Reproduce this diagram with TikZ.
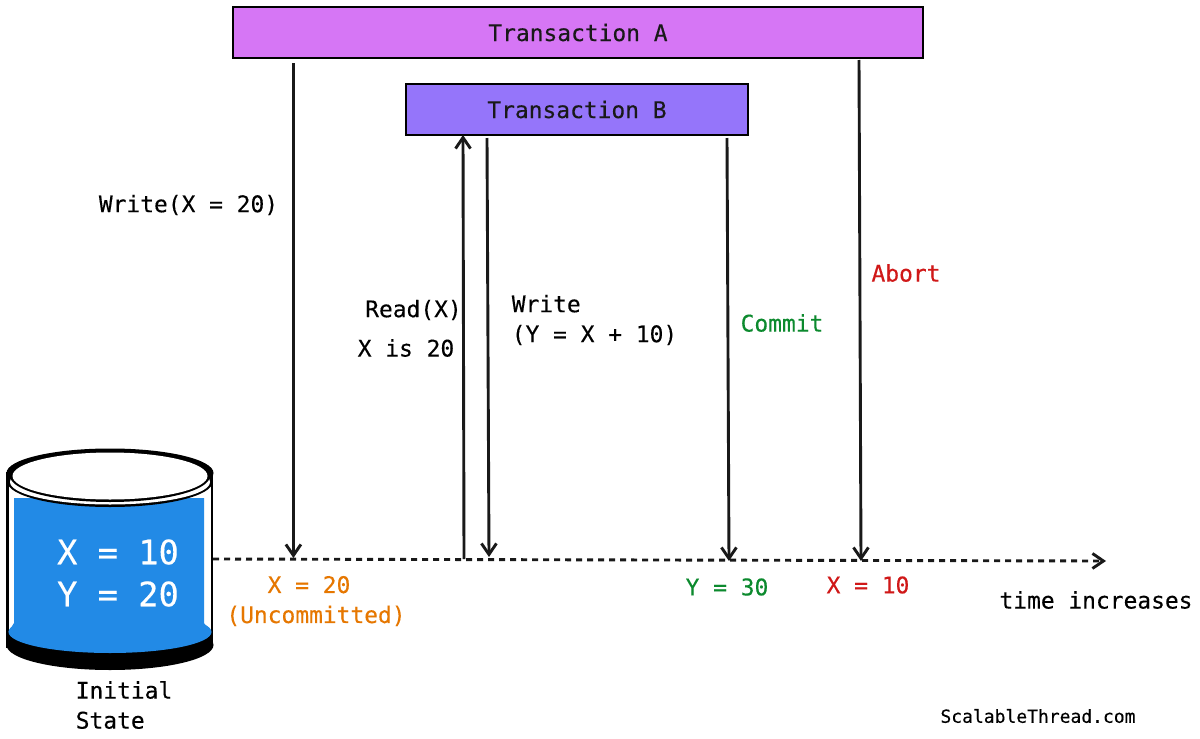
\documentclass[tikz,border=0pt]{standalone}
\usepackage{fontspec}
\setmainfont[FakeBold=0.25]{DejaVu Sans Mono}
\usetikzlibrary{arrows.meta}
\definecolor{txa}{HTML}{D676F5}
\definecolor{txb}{HTML}{9575FA}
\definecolor{dbblue}{HTML}{228AE6}
\definecolor{lblorange}{HTML}{E67700}
\definecolor{lblgreen}{HTML}{0C8A2E}
\definecolor{lblred}{HTML}{D01818}
\tikzset{
  txbox/.style={draw=black,line width=2.6pt,inner sep=0pt,font=\fontsize{22.9}{26}\selectfont,text=black!90},
  lbl/.style={inner sep=0pt,font=\fontsize{22.9}{30}\selectfont,text=black,align=left},
  flow/.style={draw=black!90,line width=2.9pt,-{Straight Barb[length=11pt,width=15pt,line width=2.9pt]}},
  timeline/.style={draw=black!90,line width=2.9pt,dash pattern=on 6pt off 5pt,-{Straight Barb[length=11pt,width=15pt,line width=2.9pt]}},
}
\begin{document}
\begin{tikzpicture}[x=1pt,y=-1pt]
\useasboundingbox (0,0) rectangle (1200,739);
\fill[white] (0,0) rectangle (1200,739);
% cylinder
\fill[black] (110,645) ellipse[x radius=103.5,y radius=25];
\fill[black] (6,472) rectangle (213,648);
\fill[white] (8.5,472) rectangle (210.5,632);
\fill[dbblue] (110,632) ellipse[x radius=101.5,y radius=21];
\fill[dbblue] (8.5,632) -- (14,623) -- (14,498) -- (204,498) -- (204,623) -- (210.5,632) -- cycle;
\fill[black] (110,473) ellipse[x radius=103.5,y radius=24.5];
\fill[black] (110,482) ellipse[x radius=102.5,y radius=25];
\fill[white] (110,482) ellipse[x radius=100,y radius=22.5];
\fill[black] (110,476) ellipse[x radius=100,y radius=26];
\fill[white] (110,476) ellipse[x radius=97.5,y radius=23.5];
% boxes
\node[txbox,fill=txa,minimum width=690pt,minimum height=51pt] (ta) at (578,32.5) {Transaction A};
\node[txbox,fill=txb,minimum width=342pt,minimum height=51pt] (tb) at (577,109.5) {Transaction B};
% coordinates
\coordinate (aw0) at (293.4,63);   \coordinate (aw1) at (293.4,558);
\coordinate (r0) at (464,559);   \coordinate (r1) at (463,135);
\coordinate (bw0) at (487,138);  \coordinate (bw1) at (489,557);
\coordinate (c0) at (727,138);   \coordinate (c1) at (729,561);
\coordinate (ab0) at (859,60);   \coordinate (ab1) at (861,561);
\coordinate (t0) at (213,559);   \coordinate (t1) at (1106,561);
\draw[flow] (aw0) -- (aw1);
\draw[flow] (r0) -- (r1);
\draw[flow] (bw0) -- (bw1);
\draw[flow] (c0) -- (c1);
\draw[flow] (ab0) -- (ab1);
\draw[timeline] (t0) -- (t1);
% labels
\node[inner sep=0pt,text=white,font=\fontsize{33.7}{42}\selectfont,align=left] (dbv) at (118,573) {X = 10\\Y = 20};
\node[lbl,align=left] (st) at (124,705) {Initial\\State};
\node[lbl] (w1) at (188.5,205) {Write(X = 20)};
\node[lbl] (rd) at (413.5,310) {Read(X)};
\node[lbl] (xis) at (406,348) {X is 20};
\node[lbl,align=left] (w2) at (594.5,320) {Write\\(Y = X + 10)};
\node[lbl,text=lblgreen] (cm) at (782,323) {Commit};
\node[lbl,text=lblred] (abl) at (906,273) {Abort};
\node[lbl,text=lblorange,align=center] (unc) at (316,601) {X = 20\hspace*{14pt}\\(Uncommitted)};
\node[lbl,text=lblgreen] (y30) at (727,587) {Y = 30};
\node[lbl,text=lblred] (x10) at (868,585) {X = 10};
\node[lbl] (ti) at (1096,600) {time increases};
\node[inner sep=0pt,font=\fontsize{18}{22}\selectfont,text=black] (sc) at (1038,716) {ScalableThread.com};
\end{tikzpicture}
\end{document}
